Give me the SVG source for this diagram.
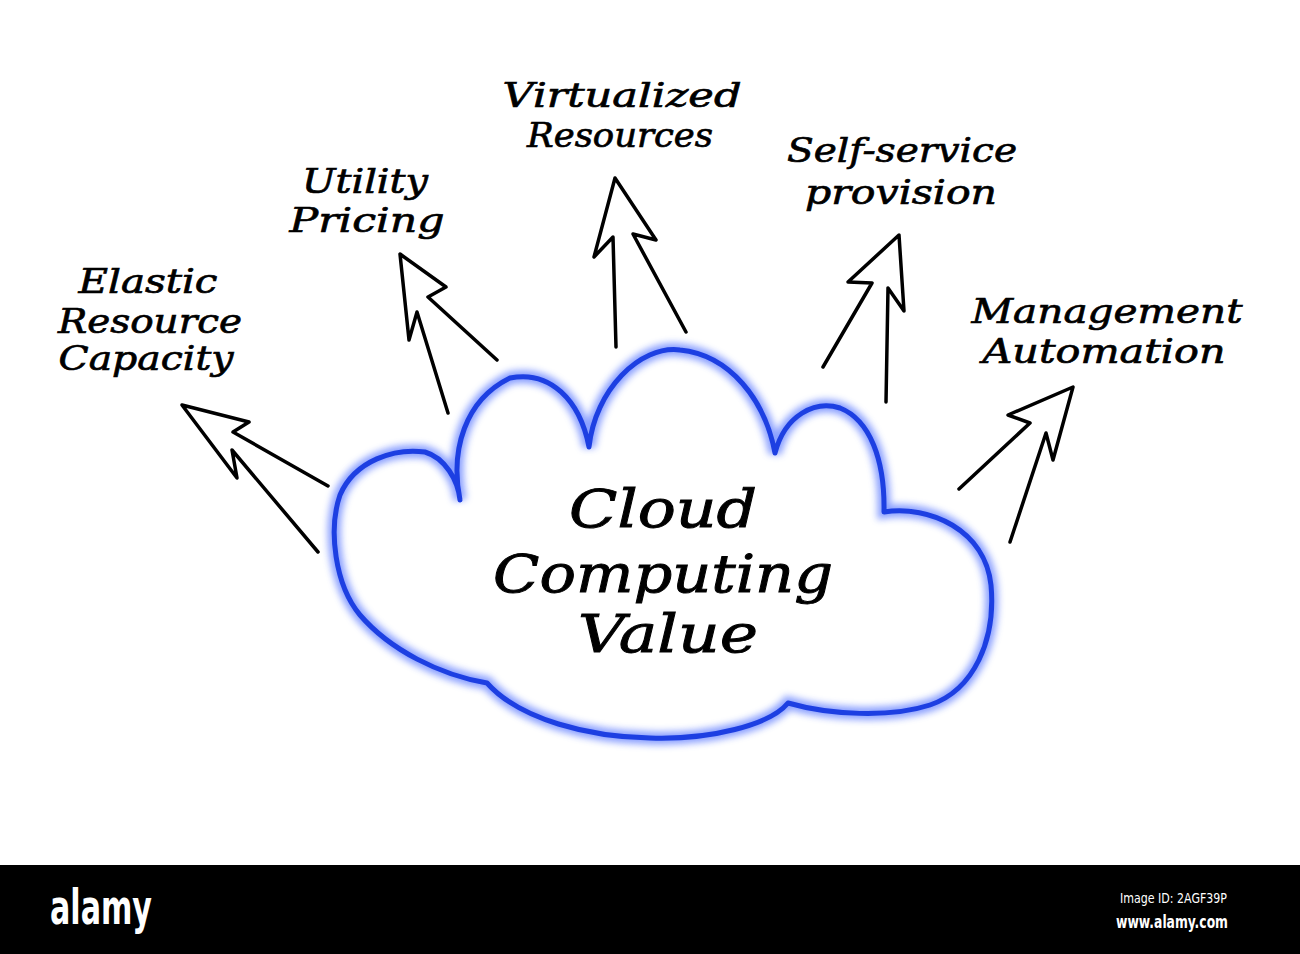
<svg xmlns="http://www.w3.org/2000/svg" width="1300" height="954" viewBox="0 0 1300 954">
<style>
.lbl{font-family:"DejaVu Serif","Liberation Serif",serif;font-style:italic;font-size:34px;fill:#000;stroke:#000;stroke-width:0.7}
.big{font-family:"DejaVu Serif","Liberation Serif",serif;font-style:italic;font-size:52px;fill:#000;stroke:#000;stroke-width:0.9}
.arrow{fill:none;stroke:#000;stroke-width:3.5;stroke-linecap:round;stroke-linejoin:round}
.glow{fill:none;stroke:#5a78ff;stroke-width:13;opacity:0.7}
.core{fill:none;stroke:#1d3fe2;stroke-width:5;stroke-linejoin:round}
</style>
<defs>
<filter id="blur" x="-10%" y="-10%" width="120%" height="120%"><feGaussianBlur stdDeviation="3.5"/></filter>
<path id="cloudPath" d="M460,500 C450,450 465,400 510,378 C550,370 580,400 589,447 C595,390 640,345 680,350 C730,355 765,400 775,453 C785,415 815,400 840,408 C870,420 885,460 884,512 C930,505 985,530 991,585 C996,640 974,690 930,705 C890,718 830,715 788,703 C770,725 710,740 650,738 C590,737 520,720 487,683 C440,675 390,650 360,615 C335,585 328,530 340,495 C355,460 395,448 425,452 C445,458 458,480 460,500 Z"/>
</defs>
<rect width="1300" height="954" fill="#fff"/>
<g id="cloud">
<use href="#cloudPath" class="glow" filter="url(#blur)"/>
<use href="#cloudPath" class="core"/>
<text class="big" x="663" y="527" text-anchor="middle" textLength="188" lengthAdjust="spacingAndGlyphs">Cloud</text>
<text class="big" x="663" y="592" text-anchor="middle" textLength="340" lengthAdjust="spacingAndGlyphs">Computing</text>
<text class="big" x="668" y="652" text-anchor="middle" textLength="180" lengthAdjust="spacingAndGlyphs">Value</text>
</g>
<g id="connectors">
<polyline class="arrow" points="328,486 233,432 249,422 182,405 237,478 232,450 318,552"/>
<polyline class="arrow" points="497,360 428,297 446,287 400,254 409,340 417,312 448,413"/>
<polyline class="arrow" points="616,347 613,237 594,257 615,178 656,240 633,234 686,332"/>
<polyline class="arrow" points="823,367 872,283 848,282 899,235 904,311 888,288 886,402"/>
<polyline class="arrow" points="959,489 1030,423 1008,415 1073,387 1053,460 1046,433 1010,542"/>
</g>
<g id="elastic">
<text class="lbl" x="148" y="293" text-anchor="middle" textLength="139" lengthAdjust="spacingAndGlyphs">Elastic</text>
<text class="lbl" x="150" y="333" text-anchor="middle" textLength="184" lengthAdjust="spacingAndGlyphs">Resource</text>
<text class="lbl" x="146" y="370" text-anchor="middle" textLength="175" lengthAdjust="spacingAndGlyphs">Capacity</text>
</g>
<g id="utility">
<text class="lbl" x="365" y="193" text-anchor="middle" textLength="126" lengthAdjust="spacingAndGlyphs">Utility</text>
<text class="lbl" x="367" y="232" text-anchor="middle" textLength="155" lengthAdjust="spacingAndGlyphs">Pricing</text>
</g>
<g id="virtualized">
<text class="lbl" x="622" y="107" text-anchor="middle" textLength="239" lengthAdjust="spacingAndGlyphs">Virtualized</text>
<text class="lbl" x="620" y="147" text-anchor="middle" textLength="186" lengthAdjust="spacingAndGlyphs">Resources</text>
</g>
<g id="selfservice">
<text class="lbl" x="902" y="162" font-size="32" text-anchor="middle" textLength="230" lengthAdjust="spacingAndGlyphs">Self-service</text>
<text class="lbl" x="901" y="204" font-size="32" text-anchor="middle" textLength="192" lengthAdjust="spacingAndGlyphs">provision</text>
</g>
<g id="management">
<text class="lbl" x="1107" y="323" text-anchor="middle" textLength="271" lengthAdjust="spacingAndGlyphs">Management</text>
<text class="lbl" x="1104" y="363" text-anchor="middle" textLength="243" lengthAdjust="spacingAndGlyphs">Automation</text>
</g>
<g id="watermark">
<rect x="0" y="865" width="1300" height="89" fill="#000"/>
<text x="50" y="924" font-family="DejaVu Sans Condensed, DejaVu Sans, sans-serif" font-weight="bold" font-size="48" fill="#fff" textLength="102" lengthAdjust="spacingAndGlyphs">alamy</text>
<text x="1227" y="903" text-anchor="end" font-family="DejaVu Sans Condensed, DejaVu Sans, sans-serif" font-size="14" fill="#fff" textLength="107" lengthAdjust="spacingAndGlyphs">Image ID: 2AGF39P</text>
<text x="1228" y="928" text-anchor="end" font-family="DejaVu Sans Condensed, DejaVu Sans, sans-serif" font-weight="bold" font-size="17" fill="#fff" textLength="112" lengthAdjust="spacingAndGlyphs">www.alamy.com</text>
</g>
</svg>
